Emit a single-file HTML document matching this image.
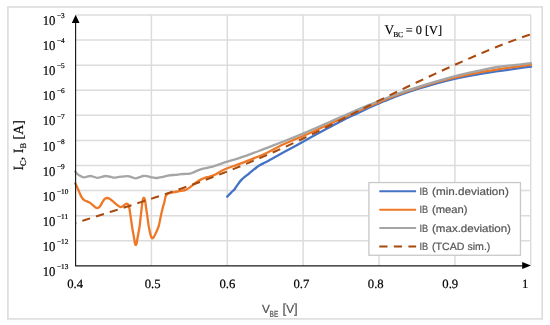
<!DOCTYPE html>
<html lang="en"><head><meta charset="utf-8"><title>Chart</title>
<style>
html,body{margin:0;padding:0;background:#fff;}
body{width:550px;height:325px;overflow:hidden;}
svg{display:block;}
text{text-rendering:geometricPrecision;}
.pal{font-family:"Liberation Serif","DejaVu Serif",serif;fill:#000;stroke:#000;stroke-width:0.2px;}
.tnr{font-family:"Liberation Serif",serif;fill:#000;stroke:#000;stroke-width:0.15px;}
.cal{font-family:"Liberation Sans","DejaVu Sans",sans-serif;fill:#575757;stroke:#575757;stroke-width:0.22px;}
</style></head><body>
<svg width="550" height="325" viewBox="0 0 550 325">
<rect x="0" y="0" width="550" height="325" fill="#fff"/>
<rect x="7.9" y="6.95" width="534.3" height="311.95" fill="#fff" stroke="#dcdcdc" stroke-width="1.6"/>
<g stroke="#dcdcdc" stroke-width="1.5" fill="none"><path d="M75.6 15.00H531.0"/><path d="M75.6 40.08H531.0"/><path d="M75.6 65.16H531.0"/><path d="M75.6 90.24H531.0"/><path d="M75.6 115.32H531.0"/><path d="M75.6 140.40H531.0"/><path d="M75.6 165.48H531.0"/><path d="M75.6 190.56H531.0"/><path d="M75.6 215.64H531.0"/><path d="M75.6 240.72H531.0"/><path d="M151.4 15V265.8"/><path d="M227.3 15V265.8"/><path d="M303.1 15V265.8"/><path d="M379.0 15V265.8"/><path d="M454.9 15V265.8"/><path d="M530.7 15V265.8"/></g>
<g fill="none" stroke-width="2.3" stroke-linejoin="round" stroke-linecap="round">
<path stroke="#4472c4" d="M227.20 196.70 C227.85 196.02 229.83 193.90 231.10 192.60 C232.37 191.30 233.58 190.40 234.80 188.90 C236.03 187.40 237.35 185.10 238.45 183.60 C239.55 182.10 240.42 180.97 241.40 179.90 C242.38 178.83 243.07 178.27 244.35 177.20 C245.63 176.13 247.69 174.63 249.10 173.50 C250.51 172.37 251.58 171.40 252.80 170.40 C254.03 169.40 255.23 168.38 256.45 167.50 C257.67 166.62 258.76 165.88 260.10 165.10 C261.44 164.32 263.02 163.58 264.50 162.80 C265.98 162.02 267.37 161.27 269.00 160.40 C270.63 159.53 271.63 159.07 274.30 157.60 C276.97 156.13 280.22 154.25 285.00 151.60 C289.78 148.95 297.83 144.52 303.00 141.69 C308.17 138.86 311.67 136.96 316.00 134.60 C320.33 132.24 324.67 129.85 329.00 127.53 C333.33 125.21 337.67 122.86 342.00 120.68 C346.33 118.49 350.67 116.48 355.00 114.42 C359.33 112.36 363.67 110.30 368.00 108.30 C372.33 106.31 376.67 104.28 381.00 102.43 C385.33 100.59 389.67 98.92 394.00 97.25 C398.33 95.58 402.67 93.94 407.00 92.42 C411.33 90.91 415.67 89.49 420.00 88.13 C424.33 86.78 428.67 85.50 433.00 84.29 C437.33 83.08 441.67 81.95 446.00 80.89 C450.33 79.83 454.67 78.85 459.00 77.93 C463.33 77.00 467.67 76.14 472.00 75.34 C476.33 74.54 480.67 73.82 485.00 73.13 C489.33 72.45 493.67 71.86 498.00 71.22 C502.33 70.59 507.17 69.87 511.00 69.32 C514.83 68.77 517.67 68.39 521.00 67.93 C524.33 67.47 529.33 66.79 531.00 66.56"/>
<path stroke="#ee7826" d="M75.30 183.30 C75.67 184.08 76.82 186.48 77.50 188.00 C78.18 189.52 78.72 190.87 79.40 192.40 C80.08 193.93 80.80 195.90 81.60 197.20 C82.40 198.50 83.22 199.46 84.20 200.20 C85.18 200.94 86.46 201.17 87.50 201.65 C88.54 202.13 89.47 202.43 90.45 203.10 C91.43 203.77 92.54 204.95 93.40 205.70 C94.26 206.45 94.92 207.20 95.60 207.60 C96.28 208.00 96.82 208.23 97.50 208.10 C98.18 207.97 98.90 207.75 99.70 206.80 C100.50 205.85 101.50 203.68 102.30 202.40 C103.10 201.12 103.77 199.83 104.50 199.10 C105.23 198.37 105.85 198.07 106.70 198.00 C107.55 197.93 108.65 198.22 109.60 198.70 C110.55 199.18 111.18 199.88 112.40 200.90 C113.62 201.92 115.55 203.77 116.90 204.80 C118.25 205.83 119.52 206.87 120.50 207.10 C121.48 207.33 122.05 206.63 122.80 206.20 C123.55 205.77 124.33 204.92 125.00 204.50 C125.67 204.08 126.23 203.68 126.80 203.70 C127.37 203.72 127.98 203.93 128.40 204.60 C128.82 205.27 128.95 205.86 129.30 207.70 C129.65 209.54 130.05 212.59 130.50 215.66 C130.95 218.73 131.55 223.14 132.00 226.10 C132.45 229.06 132.82 231.20 133.20 233.40 C133.58 235.60 134.00 237.62 134.30 239.30 C134.60 240.98 134.75 242.52 135.00 243.50 C135.25 244.48 135.53 245.20 135.80 245.20 C136.07 245.20 136.35 244.48 136.60 243.50 C136.85 242.52 137.00 240.98 137.30 239.30 C137.60 237.62 138.01 235.60 138.40 233.40 C138.79 231.20 139.25 229.06 139.65 226.10 C140.05 223.14 140.42 219.09 140.80 215.66 C141.18 212.23 141.62 208.14 141.95 205.50 C142.28 202.86 142.49 201.12 142.80 199.80 C143.11 198.48 143.45 197.63 143.80 197.60 C144.15 197.57 144.57 198.28 144.90 199.60 C145.23 200.92 145.41 202.82 145.80 205.50 C146.19 208.18 146.77 212.23 147.25 215.66 C147.73 219.09 148.21 223.14 148.70 226.10 C149.19 229.06 149.77 231.55 150.20 233.40 C150.63 235.25 150.93 236.38 151.30 237.20 C151.67 238.02 151.98 238.33 152.40 238.30 C152.82 238.27 153.25 237.82 153.80 237.00 C154.35 236.18 154.88 235.22 155.70 233.40 C156.52 231.58 157.83 229.06 158.70 226.10 C159.57 223.14 160.22 218.73 160.90 215.66 C161.58 212.59 162.18 209.90 162.75 207.70 C163.32 205.50 163.86 204.23 164.30 202.45 C164.74 200.67 164.97 198.34 165.40 197.00 C165.83 195.66 166.30 195.02 166.90 194.40 C167.50 193.78 168.07 193.62 169.00 193.30 C169.93 192.98 171.05 192.80 172.45 192.50 C173.85 192.20 175.97 191.77 177.40 191.50 C178.83 191.23 179.73 191.13 181.00 190.90 C182.27 190.67 183.57 190.65 185.00 190.10 C186.43 189.55 187.80 188.82 189.60 187.60 C191.40 186.38 193.78 184.22 195.80 182.80 C197.82 181.38 199.85 180.03 201.70 179.10 C203.55 178.17 205.52 177.63 206.90 177.20 C208.28 176.77 208.58 176.95 210.00 176.50 C211.42 176.05 213.52 175.43 215.40 174.50 C217.28 173.57 219.32 171.93 221.30 170.90 C223.28 169.87 224.60 169.35 227.30 168.30 C230.00 167.25 234.05 165.88 237.50 164.60 C240.95 163.32 243.43 162.40 248.00 160.60 C252.57 158.80 259.07 156.48 264.90 153.80 C270.73 151.12 276.65 147.46 283.00 144.50 C289.35 141.54 297.50 138.44 303.00 136.06 C308.50 133.68 311.67 132.19 316.00 130.22 C320.33 128.26 324.67 126.25 329.00 124.27 C333.33 122.28 337.67 120.28 342.00 118.31 C346.33 116.33 350.67 114.36 355.00 112.44 C359.33 110.52 363.67 108.61 368.00 106.76 C372.33 104.91 376.67 103.09 381.00 101.34 C385.33 99.59 389.67 97.88 394.00 96.24 C398.33 94.60 402.67 93.02 407.00 91.50 C411.33 89.99 415.67 88.54 420.00 87.16 C424.33 85.79 428.67 84.48 433.00 83.24 C437.33 82.00 441.67 80.83 446.00 79.72 C450.33 78.62 454.67 77.59 459.00 76.61 C463.33 75.64 467.67 74.73 472.00 73.88 C476.33 73.02 480.67 72.23 485.00 71.47 C489.33 70.72 493.67 70.03 498.00 69.35 C502.33 68.68 507.17 67.99 511.00 67.44 C514.83 66.89 517.67 66.52 521.00 66.06 C524.33 65.61 529.33 64.94 531.00 64.71"/>
<path stroke="#a5a5a5" d="M75.30 171.50 C75.58 171.85 76.32 172.95 77.00 173.60 C77.68 174.25 78.27 174.77 79.40 175.40 C80.53 176.03 82.53 177.18 83.80 177.40 C85.07 177.62 85.89 176.93 87.00 176.70 C88.11 176.47 89.28 175.97 90.45 176.00 C91.62 176.03 92.78 176.60 94.00 176.90 C95.22 177.20 96.55 177.80 97.80 177.80 C99.05 177.80 100.27 177.20 101.50 176.90 C102.73 176.60 103.95 176.07 105.20 176.00 C106.45 175.93 107.58 176.23 109.00 176.50 C110.42 176.77 112.20 177.50 113.70 177.60 C115.20 177.70 116.77 177.25 118.00 177.10 C119.23 176.95 119.48 176.85 121.10 176.70 C122.72 176.55 125.87 176.10 127.70 176.20 C129.53 176.30 130.75 176.93 132.10 177.30 C133.45 177.67 134.57 178.42 135.80 178.40 C137.03 178.38 138.27 177.60 139.50 177.20 C140.73 176.80 141.97 176.18 143.20 176.00 C144.43 175.82 145.52 175.88 146.90 176.10 C148.28 176.32 149.80 176.98 151.50 177.30 C153.20 177.62 155.18 178.08 157.10 178.00 C159.02 177.92 161.17 177.20 163.00 176.80 C164.83 176.40 166.02 175.93 168.10 175.60 C170.18 175.27 173.35 175.03 175.50 174.80 C177.65 174.57 179.25 174.35 181.00 174.20 C182.75 174.05 184.50 174.00 186.00 173.90 C187.50 173.80 188.83 173.82 190.00 173.60 C191.17 173.38 191.88 173.05 193.00 172.60 C194.12 172.15 195.17 171.52 196.70 170.90 C198.23 170.28 199.98 169.52 202.20 168.90 C204.42 168.28 205.82 168.40 210.00 167.20 C214.18 166.00 221.22 163.63 227.30 161.70 C233.38 159.77 240.23 157.78 246.50 155.60 C252.77 153.42 258.65 150.98 264.90 148.60 C271.15 146.22 277.65 143.80 284.00 141.30 C290.35 138.80 297.67 135.83 303.00 133.60 C308.33 131.38 311.67 129.86 316.00 127.96 C320.33 126.06 324.67 124.12 329.00 122.20 C333.33 120.28 337.67 118.34 342.00 116.45 C346.33 114.55 350.67 112.68 355.00 110.84 C359.33 109.00 363.67 107.19 368.00 105.42 C372.33 103.66 376.67 101.94 381.00 100.25 C385.33 98.56 389.67 96.88 394.00 95.28 C398.33 93.68 402.67 92.17 407.00 90.67 C411.33 89.18 415.67 87.72 420.00 86.33 C424.33 84.95 428.67 83.64 433.00 82.36 C437.33 81.08 441.67 79.86 446.00 78.67 C450.33 77.48 454.67 76.31 459.00 75.22 C463.33 74.14 467.67 73.12 472.00 72.15 C476.33 71.19 480.67 70.29 485.00 69.43 C489.33 68.58 493.67 67.68 498.00 67.00 C502.33 66.32 507.17 65.82 511.00 65.36 C514.83 64.91 517.67 64.63 521.00 64.27 C524.33 63.91 529.33 63.39 531.00 63.21"/>
<path stroke="#a8490d" stroke-linecap="butt" stroke-width="2.05" stroke-dasharray="8.3 6.16" stroke-dashoffset="7.38" d="M75.50 223.05 C77.08 222.55 81.75 221.05 85.00 220.01 C88.25 218.97 91.67 217.88 95.00 216.82 C98.33 215.76 101.67 214.71 105.00 213.65 C108.33 212.59 111.67 211.53 115.00 210.47 C118.33 209.41 121.67 208.35 125.00 207.29 C128.33 206.22 131.67 205.15 135.00 204.08 C138.33 203.00 141.67 201.92 145.00 200.83 C148.33 199.74 151.67 198.65 155.00 197.54 C158.33 196.44 161.67 195.32 165.00 194.20 C168.33 193.07 171.67 191.94 175.00 190.79 C178.33 189.64 181.67 188.48 185.00 187.30 C188.33 186.12 191.67 184.93 195.00 183.72 C198.33 182.51 201.67 181.29 205.00 180.05 C208.33 178.81 211.67 177.55 215.00 176.27 C218.33 175.00 221.67 173.71 225.00 172.40 C228.33 171.09 231.67 169.76 235.00 168.42 C238.33 167.08 241.67 165.71 245.00 164.34 C248.33 162.96 251.67 161.56 255.00 160.15 C258.33 158.74 261.67 157.31 265.00 155.86 C268.33 154.41 271.67 152.95 275.00 151.46 C278.33 149.98 281.67 148.48 285.00 146.96 C288.33 145.44 291.67 143.90 295.00 142.35 C298.33 140.79 301.67 139.22 305.00 137.63 C308.33 136.04 311.67 134.43 315.00 132.80 C318.33 131.17 321.67 129.53 325.00 127.87 C328.33 126.21 331.67 124.53 335.00 122.85 C338.33 121.17 341.67 119.48 345.00 117.78 C348.33 116.09 351.67 114.39 355.00 112.70 C358.33 111.01 361.67 109.31 365.00 107.62 C368.33 105.94 371.67 104.26 375.00 102.59 C378.33 100.93 381.67 99.27 385.00 97.63 C388.33 96.00 391.67 94.37 395.00 92.76 C398.33 91.15 401.67 89.55 405.00 87.96 C408.33 86.37 411.67 84.80 415.00 83.23 C418.33 81.66 421.67 80.10 425.00 78.55 C428.33 76.99 431.67 75.44 435.00 73.90 C438.33 72.36 441.67 70.83 445.00 69.30 C448.33 67.78 451.67 66.26 455.00 64.76 C458.33 63.26 461.67 61.77 465.00 60.30 C468.33 58.83 471.67 57.37 475.00 55.94 C478.33 54.50 481.67 53.08 485.00 51.69 C488.33 50.30 491.67 48.93 495.00 47.59 C498.33 46.25 501.67 44.93 505.00 43.64 C508.33 42.36 511.67 41.10 515.00 39.88 C518.33 38.66 522.47 37.21 525.00 36.32 C527.53 35.43 529.33 34.85 530.20 34.56"/>
</g>
<g stroke="#1a1a1a" stroke-width="1.15" fill="none" stroke-linejoin="round"><path d="M75.6 22V265.9H524"/></g>
<path fill="#000" d="M75.65 14.8L79.5 23.1H71.8Z"/>
<path fill="#000" d="M530.9 265.6L522.2 261.9V269.1Z"/>
<rect x="368.9" y="182.55" width="151.55" height="72.7" fill="#fff" stroke="#c8c8c8" stroke-width="1.3"/>
<path d="M379.3 191.20H416.1" stroke="#4472c4" stroke-width="2" fill="none"/>
<text class="cal" x="419.5" y="194.7" font-size="10.5" textLength="8.7" lengthAdjust="spacingAndGlyphs">IB</text>
<text class="cal" x="432.0" y="194.7" font-size="10.5" textLength="76.8" lengthAdjust="spacingAndGlyphs">(min.deviation)</text>
<path d="M379.3 209.75H416.1" stroke="#ee7826" stroke-width="2" fill="none"/>
<text class="cal" x="419.5" y="213.2" font-size="10.5" textLength="8.7" lengthAdjust="spacingAndGlyphs">IB</text>
<text class="cal" x="432.0" y="213.2" font-size="10.5" textLength="35.6" lengthAdjust="spacingAndGlyphs">(mean)</text>
<path d="M379.3 228.10H416.1" stroke="#a5a5a5" stroke-width="2" fill="none"/>
<text class="cal" x="419.5" y="231.6" font-size="10.5" textLength="8.7" lengthAdjust="spacingAndGlyphs">IB</text>
<text class="cal" x="432.0" y="231.6" font-size="10.5" textLength="78.9" lengthAdjust="spacingAndGlyphs">(max.deviation)</text>
<path d="M379.3 246.60H416.1" stroke="#a8490d" stroke-width="2" fill="none" stroke-dasharray="8.2 6.35"/>
<text class="cal" x="419.5" y="250.1" font-size="10.5" textLength="8.7" lengthAdjust="spacingAndGlyphs">IB</text>
<text class="cal" x="432.0" y="250.1" font-size="10.5" textLength="58.4" lengthAdjust="spacingAndGlyphs">(TCAD sim.)</text>
<text class="pal" x="42.7" y="25.15" font-size="13.4" textLength="12.7" lengthAdjust="spacingAndGlyphs">10</text>
<text class="pal" x="56.9" y="18.20" font-size="7.3">−3</text>
<text class="pal" x="42.7" y="50.23" font-size="13.4" textLength="12.7" lengthAdjust="spacingAndGlyphs">10</text>
<text class="pal" x="56.9" y="43.28" font-size="7.3">−4</text>
<text class="pal" x="42.7" y="75.31" font-size="13.4" textLength="12.7" lengthAdjust="spacingAndGlyphs">10</text>
<text class="pal" x="56.9" y="68.36" font-size="7.3">−5</text>
<text class="pal" x="42.7" y="100.39" font-size="13.4" textLength="12.7" lengthAdjust="spacingAndGlyphs">10</text>
<text class="pal" x="56.9" y="93.44" font-size="7.3">−6</text>
<text class="pal" x="42.7" y="125.47" font-size="13.4" textLength="12.7" lengthAdjust="spacingAndGlyphs">10</text>
<text class="pal" x="56.9" y="118.52" font-size="7.3">−7</text>
<text class="pal" x="42.7" y="150.55" font-size="13.4" textLength="12.7" lengthAdjust="spacingAndGlyphs">10</text>
<text class="pal" x="56.9" y="143.60" font-size="7.3">−8</text>
<text class="pal" x="42.7" y="175.63" font-size="13.4" textLength="12.7" lengthAdjust="spacingAndGlyphs">10</text>
<text class="pal" x="56.9" y="168.68" font-size="7.3">−9</text>
<text class="pal" x="42.7" y="200.71" font-size="13.4" textLength="12.7" lengthAdjust="spacingAndGlyphs">10</text>
<text class="pal" x="56.9" y="193.76" font-size="7.3">−10</text>
<text class="pal" x="42.7" y="225.79" font-size="13.4" textLength="12.7" lengthAdjust="spacingAndGlyphs">10</text>
<text class="pal" x="56.9" y="218.84" font-size="7.3">−11</text>
<text class="pal" x="42.7" y="250.87" font-size="13.4" textLength="12.7" lengthAdjust="spacingAndGlyphs">10</text>
<text class="pal" x="56.9" y="243.92" font-size="7.3">−12</text>
<text class="pal" x="42.7" y="275.95" font-size="13.4" textLength="12.7" lengthAdjust="spacingAndGlyphs">10</text>
<text class="pal" x="56.9" y="269.00" font-size="7.3">−13</text>
<text class="pal" x="67.2" y="288.4" font-size="12.7">0.4</text>
<text class="pal" x="144.7" y="288.4" font-size="12.7">0.5</text>
<text class="pal" x="219.4" y="288.4" font-size="12.7">0.6</text>
<text class="pal" x="293.4" y="288.4" font-size="12.7">0.7</text>
<text class="pal" x="367.8" y="288.4" font-size="12.7">0.8</text>
<text class="pal" x="442.3" y="288.4" font-size="12.7">0.9</text>
<text class="pal" x="522.1" y="288.4" font-size="12.7">1</text>
<text class="tnr" x="384.5" y="33.9" font-size="12.5"><tspan font-size="13.4">V</tspan><tspan font-size="7.6" dy="2.9" dx="-0.8" letter-spacing="-0.5">BC</tspan><tspan dy="-2.9" dx="0.2" font-size="12.3"> = 0 [V]</tspan></text>
<text class="cal" x="261.9" y="312.9" font-size="11.8">V</text>
<text class="cal" x="269.6" y="316.6" font-size="8.8" textLength="8.8" lengthAdjust="spacingAndGlyphs">BE</text>
<text class="cal" x="282.5" y="313.2" font-size="13.2">[</text>
<text class="cal" x="286.2" y="312.9" font-size="11.8">V</text>
<text class="cal" x="293.9" y="313.2" font-size="13.2">]</text>
<text class="pal" transform="translate(23,170.6) rotate(-90)" font-size="14">I<tspan font-size="8.5" dy="3">C</tspan><tspan dy="-3">, I</tspan><tspan font-size="8.5" dy="3">B</tspan><tspan dy="-3"> [A]</tspan></text>
</svg>
</body></html>
